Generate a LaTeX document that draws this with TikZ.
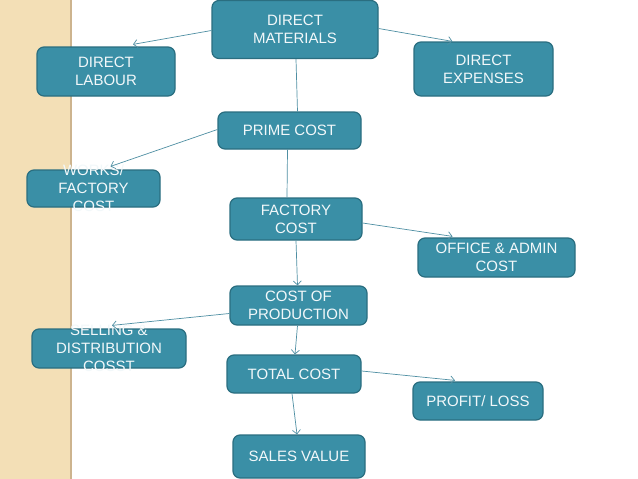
\documentclass[tikz,border=0pt]{standalone}
\usepackage{fontspec}
\setmainfont{Liberation Sans}
\usetikzlibrary{arrows.meta}
\definecolor{boxfill}{HTML}{3A8FA6}
\definecolor{boxline}{HTML}{2A6E80}
\definecolor{conn}{HTML}{4F8FA3}
\definecolor{beige}{HTML}{F3DFB6}
\definecolor{divider}{HTML}{CDB48E}
\definecolor{txt}{HTML}{F2F8FA}
\tikzset{
  box/.style={draw=boxline, line width=1.2pt, fill=boxfill, rounded corners=7pt,
    text=txt, align=center, inner sep=0pt, font=\fontsize{15}{18}\selectfont},
  boxtext/.style={text=txt, align=center, inner sep=0pt, font=\fontsize{15}{18}\selectfont},
  conn/.style={draw=conn, line width=0.7pt},
  arr/.style={conn, -{Straight Barb[length=4pt,width=8pt,line width=0.7pt]}}
}
\begin{document}
\begin{tikzpicture}[x=1pt,y=-1pt]
\useasboundingbox (0,0) rectangle (638,479);
\fill[white] (0,0) rectangle (638,479);
\fill[beige] (0,0) rectangle (70,479);
\draw[divider, line width=2pt] (70.5,0) -- (70.5,479);

\node[box, minimum width=166pt, minimum height=58pt] (dm) at (295,29.5) {DIRECT\\MATERIALS};
\node[box, minimum width=138pt, minimum height=49pt] (dl) at (106,71.5) {DIRECT\\LABOUR};
\node[box, minimum width=139pt, minimum height=54pt] (de) at (483.5,69) {DIRECT\\EXPENSES};
\node[box, minimum width=143pt, minimum height=37pt] (pc) at (289.5,130.5) {PRIME COST};
\node[box, minimum width=133pt, minimum height=37pt] (wfc) at (93.5,188.5) {};
\node[boxtext] (wfct) at (wfc.center) {WORKS/\\FACTORY\\COST};
\node[box, minimum width=132pt, minimum height=42pt] (fc) at (296,219) {FACTORY\\COST};
\node[box, minimum width=157pt, minimum height=39pt] (oa) at (496.5,257.5) {OFFICE \& ADMIN\\COST};
\node[box, minimum width=137pt, minimum height=39pt] (cop) at (298.5,305.5) {COST OF\\PRODUCTION};
\node[box, minimum width=154pt, minimum height=39pt] (sd) at (109,348.5) {};
\node[boxtext] (sdt) at (sd.center) {SELLING \&\\DISTRIBUTION\\COSST};
\node[box, minimum width=134pt, minimum height=38pt] (tc) at (294,374) {TOTAL COST};
\node[box, minimum width=130pt, minimum height=38pt] (pl) at (478,401) {PROFIT/ LOSS};
\node[box, minimum width=132pt, minimum height=43pt] (sv) at (299,456.5) {SALES VALUE};

\draw[arr] ([yshift=-1]dm.west) -- ([xshift=27,yshift=2]dl.north);
\draw[arr] ([yshift=1]dm.east) -- ([xshift=-31,yshift=0]de.north);
\draw[conn] ([xshift=1]dm.south) -- ([xshift=8]pc.north);
\draw[arr] ([yshift=1]pc.west) -- ([xshift=17,yshift=3]wfc.north);
\draw[conn] ([xshift=-2]pc.south) -- ([xshift=-9]fc.north);
\draw[arr] ([yshift=-4]fc.east) -- ([xshift=-44,yshift=1]oa.north);
\draw[arr] (fc.south) -- ([xshift=-1]cop.north);
\draw[arr] ([yshift=-8]cop.west) -- ([xshift=3,yshift=3]sd.north);
\draw[arr] ([xshift=-1]cop.south) -- ([xshift=1]tc.north);
\draw[arr] ([yshift=3]tc.east) -- ([xshift=-23,yshift=1]pl.north);
\draw[arr] ([xshift=-2]tc.south) -- ([xshift=-2]sv.north);
\end{tikzpicture}
\end{document}
